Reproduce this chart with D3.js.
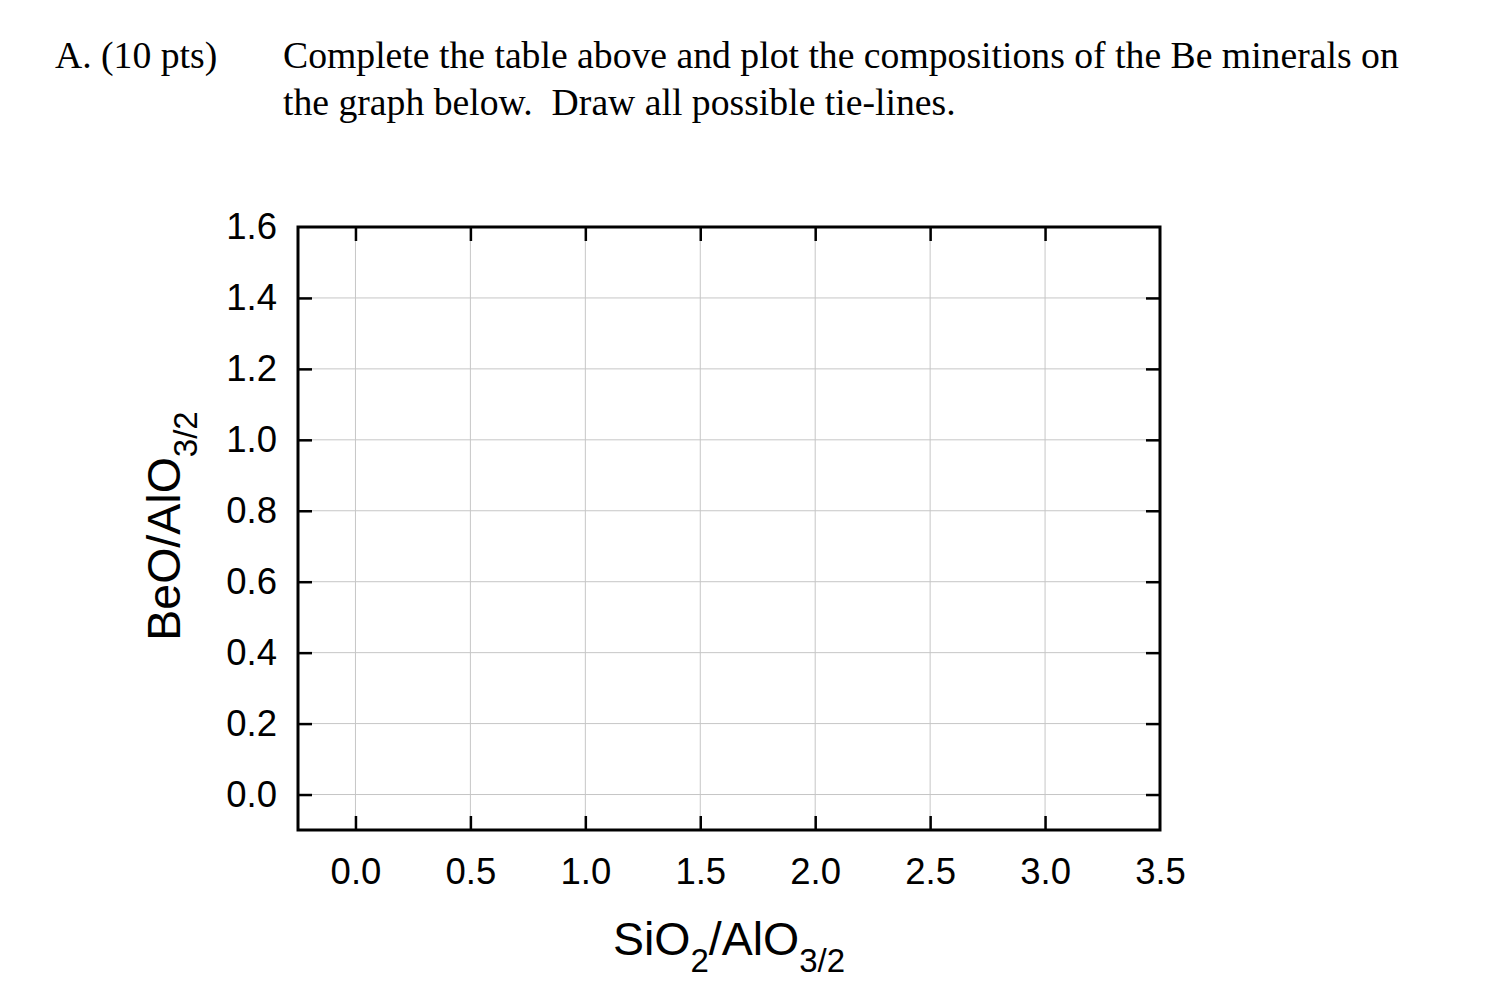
<!DOCTYPE html>
<html>
<head>
<meta charset="utf-8">
<title>Be minerals</title>
<style>
    body { margin: 0; background: white; }
    .serif { font-family: "Liberation Serif", "Times New Roman", serif; }
    .sans { font-family: "Liberation Sans", Arial, sans-serif; }
    .grid line { stroke: #c6c6c6; stroke-width: 1; }
</style>
</head>
<body>
<div id="chart"></div>
<script src="https://cdn.jsdelivr.net/npm/d3@7"></script>
<script>
    // axis ticks
    let xTicks = [0.0, 0.5, 1.0, 1.5, 2.0, 2.5, 3.0, 3.5]
    let yTicks = [0.0, 0.2, 0.4, 0.6, 0.8, 1.0, 1.2, 1.4, 1.6]
    let xDomain = [-0.25, 3.5]
    let yDomain = [-0.1, 1.6]
    let questionLines = [
        "Complete the table above and plot the compositions of the Be minerals on",
        "the graph below.  Draw all possible tie-lines."
    ]

    let width = 1499, height = 996
    let plotLeft = 298, plotRight = 1160, plotTop = 227, plotBottom = 830

    let svg = d3.select("#chart").append("svg")
        .attr("width", width)
        .attr("height", height)

    // question text
    svg.append("text")
        .attr("class", "serif")
        .attr("x", 55)
        .attr("y", 68)
        .attr("font-size", 37.7)
        .text("A. (10 pts)")

    svg.selectAll(".qline")
        .data(questionLines)
        .enter()
        .append("text")
        .attr("class", "serif qline")
        .attr("x", 283)
        .attr("y", (d, i) => 68 + i * 47)
        .attr("font-size", 37.7)
        .style("white-space", "pre")
        .text(d => d)

    let x = d3.scaleLinear().domain(xDomain).range([plotLeft, plotRight])
    let y = d3.scaleLinear().domain(yDomain).range([plotBottom, plotTop])

    // grid
    let grid = svg.append("g").attr("class", "grid")
    grid.selectAll(".gx")
        .data(xTicks.filter(d => d < 3.5))
        .enter().append("line")
        .attr("x1", d => x(d)).attr("x2", d => x(d))
        .attr("y1", plotTop).attr("y2", plotBottom)
    grid.selectAll(".gy")
        .data(yTicks.filter(d => d < 1.6))
        .enter().append("line")
        .attr("x1", plotLeft).attr("x2", plotRight)
        .attr("y1", d => y(d)).attr("y2", d => y(d))

    // axes, ticks pointing inward
    let tickLen = 14
    let xAxis = svg.append("g")
        .attr("transform", "translate(0," + plotBottom + ")")
        .call(d3.axisBottom(x).tickValues(xTicks).tickSizeInner(-tickLen).tickSizeOuter(0).tickPadding(28).tickFormat(d3.format(".1f")))
    svg.append("g")
        .attr("transform", "translate(0," + plotTop + ")")
        .call(d3.axisTop(x).tickValues(xTicks.filter(d => d < 3.5)).tickSizeInner(-tickLen).tickSizeOuter(0).tickFormat(""))
    let yAxis = svg.append("g")
        .attr("transform", "translate(" + plotLeft + ",0)")
        .call(d3.axisLeft(y).tickValues(yTicks).tickSizeInner(-tickLen).tickSizeOuter(0).tickPadding(21).tickFormat(d3.format(".1f")))
    svg.append("g")
        .attr("transform", "translate(" + plotRight + ",0)")
        .call(d3.axisRight(y).tickValues(yTicks.filter(d => d < 1.6)).tickSizeInner(-tickLen).tickSizeOuter(0).tickFormat(""))

    svg.selectAll(".domain").remove()
    svg.selectAll(".tick line").attr("stroke", "#000").attr("stroke-width", 2.5)
    svg.selectAll(".tick text").attr("font-size", 36.5).attr("fill", "#000")
        .attr("font-family", "Liberation Sans, Arial, sans-serif")
    // no tick mark at the frame corners
    xAxis.selectAll(".tick").filter(d => d === 3.5).select("line").remove()
    yAxis.selectAll(".tick").filter(d => d === 1.6).select("line").remove()

    // frame
    svg.append("rect")
        .attr("x", plotLeft).attr("y", plotTop)
        .attr("width", plotRight - plotLeft).attr("height", plotBottom - plotTop)
        .attr("fill", "none")
        .attr("stroke", "#000")
        .attr("stroke-width", 3)

    // axis titles
    let xt = svg.append("text")
        .attr("class", "sans")
        .attr("x", 729)
        .attr("y", 955)
        .attr("text-anchor", "middle")
        .attr("font-size", 46.5)
    xt.append("tspan").text("SiO")
    xt.append("tspan").attr("font-size", 33).attr("dy", 17).text("2")
    xt.append("tspan").attr("dy", -17).text("/AlO")
    xt.append("tspan").attr("font-size", 33).attr("dy", 17).text("3/2")

    let yt = svg.append("text")
        .attr("class", "sans")
        .attr("transform", "translate(180,526) rotate(-90)")
        .attr("text-anchor", "middle")
        .attr("font-size", 46.5)
    yt.append("tspan").text("BeO/AlO")
    yt.append("tspan").attr("font-size", 33).attr("dy", 17).text("3/2")
</script>
</body>
</html>
